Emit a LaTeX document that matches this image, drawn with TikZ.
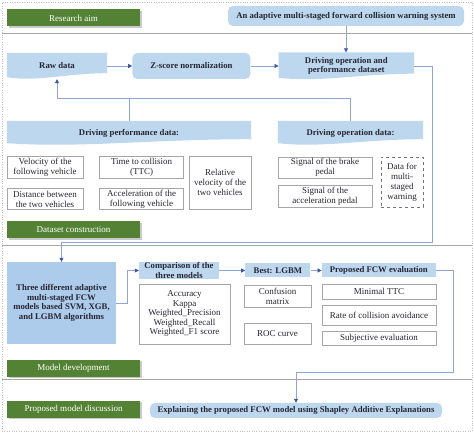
\documentclass[tikz,border=0pt]{standalone}
\usepackage{fontspec}
\setmainfont{Liberation Serif}
\usepackage{tikz}
\usetikzlibrary{arrows.meta, positioning, shadows, backgrounds, calc}
\definecolor{LabelGreen}{HTML}{548235}
\definecolor{BoxBlue}{HTML}{BDD7EE}
\definecolor{DeepBlue}{HTML}{ADCBEA}
\definecolor{LineBlue}{HTML}{8FA5D3}
\definecolor{TipBlue}{HTML}{3A56A5}
\definecolor{FrameGray}{HTML}{A6A6A6}
\definecolor{TextDark}{HTML}{262633}
\newcommand{\boxfont}{\fontsize{9}{10}\selectfont}
\newcommand{\headfont}{\fontsize{8.7}{9.8}\selectfont\bfseries}
% light blue fill with a wavy lower edge, drawn behind a named node
\newcommand{\wavefill}[1]{%
  \fill[BoxBlue] (#1.north west) -- (#1.north east) -- ([yshift=6pt]#1.south east)
    .. controls ([yshift=6pt]$(#1.south west)!0.6!(#1.south east)$)
    and ([yshift=-3pt]$(#1.south west)!0.3!(#1.south east)$)
    .. ([yshift=2pt]#1.south west) -- cycle;}

\begin{document}
\begin{tikzpicture}[
    x=1pt, y=1pt,
    % Style for the green section labels
    greenlab/.style = {
        fill=LabelGreen, text=white, font=\boxfont,
        minimum width=133pt, minimum height=17pt, inner sep=1pt,
        drop shadow={shadow xshift=1.5pt, shadow yshift=-1.5pt, fill=black!35, opacity=0.6}
    },
    % Style for rounded light blue steps
    softbox/.style = {
        fill=BoxBlue, rounded corners=5pt, align=center,
        font=\headfont, text=TextDark, inner sep=1pt
    },
    % Style for plain light blue steps
    flatbox/.style = {
        fill=BoxBlue, align=center,
        font=\headfont, text=TextDark, inner sep=1pt
    },
    % Style for steps with a wavy lower edge (fill drawn later)
    wavebox/.style = {
        align=center, font=\headfont, text=TextDark, inner sep=1pt
    },
    % Style for the white detail boxes
    itembox/.style = {
        draw=FrameGray, line width=0.6pt, fill=white, align=center,
        font=\boxfont, text=TextDark, inner sep=1pt
    },
    arr/.style = {-{Triangle[length=4pt, width=4pt, color=TipBlue]}, line width=0.7pt, color=LineBlue},
    link/.style = {line width=0.7pt, color=LineBlue},
    sepline/.style = {FrameGray, line width=0.6pt},
]
\useasboundingbox (0,0) rectangle (474,433);

% --- 1. RESEARCH AIM ---
\node[greenlab] (aimlab) at (73.5,415) {Research aim};
\node[softbox, minimum width=236pt, minimum height=20pt] (aim) at (346,417)
    {An adaptive multi-staged forward collision warning system};

% --- 2. DATASET CONSTRUCTION ---
\node[wavebox, minimum width=100pt, minimum height=26pt] (raw) at (57,367) {Raw data};
\node[softbox, minimum width=118pt, minimum height=26pt, right=25pt of raw] (zscore) {Z-score normalization};
\node[wavebox, minimum width=135pt, minimum height=27pt, right=28pt of zscore] (dataset)
    {Driving operation and\\performance dataset};

\node[wavebox, minimum width=244pt, minimum height=24pt] (perf) at (129,300) {Driving performance data:};
\node[wavebox, minimum width=145pt, minimum height=24pt] (oper) at (350.5,300) {Driving operation data:};

\node[itembox, minimum width=76pt, minimum height=22pt] (vel) at (45,266) {Velocity of the\\following vehicle};
\node[itembox, minimum width=84pt, minimum height=22pt, right=16pt of vel] (ttc) {Time to collision\\(TTC)};
\node[itembox, minimum width=62pt, minimum height=53pt] (relvel) at (220,250.5) {Relative\\velocity of the\\two vehicles};
\node[itembox, minimum width=76pt, minimum height=21pt, below=10pt of vel] (dist) {Distance between\\the two vehicles};
\node[itembox, minimum width=84pt, minimum height=21pt, below=10pt of ttc] (accel) {Acceleration of the\\following vehicle};

\node[itembox, minimum width=94pt, minimum height=21pt] (brake) at (325,265.5) {Signal of the brake\\pedal};
\node[itembox, minimum width=94pt, minimum height=22pt, below=7pt of brake] (accped) {Signal of the\\acceleration pedal};
\node[itembox, dashed, draw=black!55, minimum width=42pt, minimum height=50pt] (multi) at (402,251)
    {Data for\\multi-\\staged\\warning};

\node[greenlab] (dslab) at (73.5,203) {Dataset construction};

% --- 3. MODEL DEVELOPMENT ---
\node[flatbox, fill=DeepBlue, minimum width=109pt, minimum height=82pt] (three) at (61.5,130)
    {Three different adaptive\\multi-staged FCW\\models based SVM, XGB,\\and LGBM algorithms};
\node[flatbox, font=\fontsize{8.7}{9.4}\selectfont\bfseries, inner sep=0pt,
      minimum width=80pt, minimum height=17pt] (comp) at (179,162.5) {Comparison of the\\three models};
\node[flatbox, minimum width=65pt, minimum height=14pt, right=26pt of comp] (best) {Best: LGBM};
\node[flatbox, minimum width=114pt, minimum height=14pt, right=11pt of best] (fcweval) {Proposed FCW evaluation};

\node[itembox, font=\fontsize{9}{9.5}\selectfont, minimum width=91pt, minimum height=60pt] (metrics) at (184.5,119)
    {Accuracy\\Kappa\\Weighted\_Precision\\Weighted\_Recall\\Weighted\_F1 score};
\node[itembox, minimum width=67pt, minimum height=22pt] (confmat) at (277.5,137) {Confusion\\matrix};
\node[itembox, minimum width=67pt, minimum height=21pt] (roc) at (277.5,99.5) {ROC curve};
\node[itembox, minimum width=114pt, minimum height=15pt] (minttc) at (379,141.5) {Minimal TTC};
\node[itembox, minimum width=114pt, minimum height=20pt, below=6pt of minttc] (avoid) {Rate of collision avoidance};
\node[itembox, minimum width=114pt, minimum height=14pt, below=5pt of avoid] (subj) {Subjective evaluation};

\node[greenlab] (mdlab) at (73.5,64.5) {Model development};

% --- 4. PROPOSED MODEL DISCUSSION ---
\node[greenlab] (pmlab) at (73.5,23.5) {Proposed model discussion};
\node[softbox, minimum width=292pt, minimum height=15pt] (shap) at (296,22.5)
    {Explaining the proposed FCW model using Shapley Additive Explanations};

% --- 5. FRAME, SEPARATORS & WAVY FILLS ---
\begin{scope}[on background layer]
    \draw[dotted, FrameGray!70] (2,2) rectangle (472,431);
    \draw[sepline] (2,400) -- (472,400);
    \draw[sepline] (2,188) -- (472,188);
    \draw[sepline] (2,54) -- (472,54);
    \wavefill{raw}
    \wavefill{dataset}
    \wavefill{perf}
    \wavefill{oper}
\end{scope}

% --- 6. CONNECTORS ---
\coordinate (dsbend) at (432,191);
\coordinate (evbend) at (453,61);
\draw[arr] (aim.south) -- (aim.south |- dataset.north);
\draw[arr] (raw) -- (zscore);
\draw[arr] (zscore) -- (dataset);
\draw[arr] (perf.north) -- ++(0,22) -| (raw.south);
\draw[link] (oper.north) -- ++(0,22) -| (perf.north);
\draw[arr] (dataset.east) -| (dsbend) -| (three.north);
\draw[arr] (three.east) -- ++(11,0) |- (comp.west);
\draw[arr] (comp) -- (best);
\draw[arr] (best) -- (fcweval);
\draw[arr] (fcweval.east) -| (evbend) -| (shap.north);

\end{tikzpicture}
\end{document}
